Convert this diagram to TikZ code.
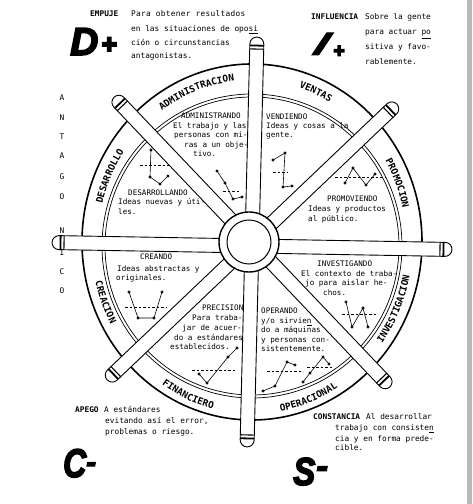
\documentclass[tikz,border=0pt]{standalone}
\usepackage{fontspec}
\usetikzlibrary{decorations.text}
\newfontfamily\monof{DejaVu Sans Mono}
\newfontfamily\bigf{Liberation Sans}
\newcommand\fntIn{\monof\fontsize{7.6}{9}\selectfont}
\newcommand\fntOut{\monof\fontsize{7.8}{9}\selectfont}
\newcommand\fntLab{\monof\bfseries\fontsize{9.4}{10}\selectfont}
\newcommand\fntBig[1]{\bigf\bfseries\itshape\fontsize{#1}{#1}\selectfont}
\newcommand\heavytxt[2]{\special{pdf:literal direct 2 Tr #1 w}#2\special{pdf:literal direct 0 Tr 0.4 w}}
\newcommand\ringlab[5]{\path[decorate,decoration={text along path,text={|\fntLab|#1},text align=center}] ([shift={(252,262)}]#2:#4 and #5) arc[start angle=#2,end angle=#3,x radius=#4,y radius=#5];}
\tikzset{
  intxt/.style={font=\fntIn, anchor=base west, inner sep=0pt},
  outtxt/.style={font=\fntOut, anchor=base west, inner sep=0pt},
  outbold/.style={font=\fntOut\bfseries, anchor=base west, inner sep=0pt},
  bigtxt/.style={anchor=base west, inner sep=0pt},
  vletter/.style={font=\fntOut, anchor=center, inner sep=0pt},
  ringout/.style={line width=1.6pt},
  ringin/.style={line width=0.7pt},
  spokebody/.style={draw, fill=white, line width=0.9pt},
  chart/.style={line width=0.6pt},
  dashln/.style={line width=0.5pt, dash pattern=on 2.5pt off 2pt}
}
\begin{document}
\begin{tikzpicture}[x=1pt,y=1pt]
\useasboundingbox (0,0) rectangle (472,504);
\fill[white] (0,0) rectangle (472,504);
\fill[gray!55] (467,0) rectangle (472,504);

% rings
\draw[ringout] (252,262) ellipse [x radius=170, y radius=178];
\draw[ringin] (252,258) ellipse [x radius=150, y radius=152];
\draw[ringin] (252,258) ellipse [x radius=147, y radius=149];

% ring labels
\ringlab{PROMOCION}{43.1}{-0.9}{154}{162}
\ringlab{VENTAS}{88.1}{44.1}{154}{162}
\ringlab{ADMINISTRACION}{133.1}{89.1}{154}{162}
\ringlab{DESARROLLO}{178.1}{134.1}{154}{162}
\ringlab{CREACION}{179.1}{223.1}{161}{172}
\ringlab{FINANCIERO}{224.1}{268.1}{161}{172}
\ringlab{OPERACIONAL}{269.1}{313.1}{161}{172}
\ringlab{INVESTIGACION}{314.1}{358.1}{161}{172}

% spokes
\foreach \a/\L/\cy in {-1.0/200/258,43.6/200/262,88.6/205/262,133.6/200/262}{
  \begin{scope}[shift={(252,\cy)},rotate=\a]
    \draw[spokebody] (-\L+7,-7) -- (\L-7,-7) arc[start angle=-90,end angle=90,radius=7] -- (-\L+7,7) arc[start angle=90,end angle=270,radius=7] -- cycle;
    \draw[line width=1.8pt] (\L-8.5,-7) -- (\L-8.5,7) (-\L+8.5,-7) -- (-\L+8.5,7);
    \draw[line width=1.1pt] (\L-12,-7) -- (\L-12,7) (-\L+12,-7) -- (-\L+12,7);
  \end{scope}}

% hub
\draw[line width=1.4pt, fill=white] (249,262) circle (30);
\draw[line width=1pt] (249,262) circle (22);

% charts
\draw[chart] plot[mark=*, mark size=1.2pt] coordinates {(217,333) (225,321) (233,305) (242,307)};
\draw[dashln] (223,313) -- (240,313);
\draw[chart] plot[mark=*, mark size=1.2pt] coordinates {(151,354) (150,327) (160,320) (168,328)};
\draw[dashln] (140,339) -- (170,339);
\draw[chart] plot[mark=*, mark size=1.2pt] coordinates {(273,344) (285,351) (283,317) (292,318)};
\draw[dashln] (273,332) -- (288,332);
\draw[chart] plot[mark=*, mark size=1.2pt] coordinates {(345,321) (353,336) (366,319) (375,330)};
\draw[dashln] (335,327) -- (385,327);
\draw[chart] plot[mark=*, mark size=1.2pt] coordinates {(346,202) (352,177) (363,196) (368,177)};
\draw[dashln] (342,190) -- (378,190);
\draw[chart] plot[mark=*, mark size=1.2pt] coordinates {(129,212) (138,186) (154,186) (162,212)};
\draw[dashln] (125,197) -- (167,197);
\draw[chart] plot[mark=*, mark size=1.2pt] coordinates {(199,130) (207,121) (228,147) (237,156)};
\draw[dashln] (192,134) -- (237,134);
\draw[chart] plot[mark=*, mark size=1.2pt] coordinates {(263,113) (275,118) (287,142) (295,139)};
\draw[dashln] (267,133) -- (303,133);
\draw[chart] plot[mark=*, mark size=1.2pt] coordinates {(303,122) (310,131) (323,147) (329,140)};
\draw[dashln] (307,137) -- (333,137);

% sector texts
\node[intxt] (adm1) at (181,385) {ADMINISTRANDO};
\node[intxt] (adm2) at (173,375.5) {El trabajo y las};
\node[intxt] (adm3) at (174,366) {personas con mi-};
\node[intxt] (adm4) at (184,356.5) {ras a un obje-};
\node[intxt] (adm5) at (193,347) {tivo.};

\node[intxt] (ven1) at (266,384) {VENDIENDO};
\node[intxt] (ven2) at (266,375) {Ideas y cosas a la};
\node[intxt] (ven3) at (266,366) {gente.};

\node[intxt] (des1) at (128,308) {DESARROLLANDO};
\node[intxt] (des2) at (118,299) {Ideas nuevas y úti-};
\node[intxt] (des3) at (118,289) {les.};

\node[intxt] (pro1) at (327,302) {PROMOVIENDO};
\node[intxt] (pro2) at (308,292) {Ideas y productos};
\node[intxt] (pro3) at (308,282) {al público.};

\node[intxt] (cre1) at (140,244) {CREANDO};
\node[intxt] (cre2) at (117,232) {Ideas abstractas y};
\node[intxt] (cre3) at (116,223) {originales.};

\node[intxt] (inv1) at (317,237) {INVESTIGANDO};
\node[intxt] (inv2) at (301,227) {El contexto de traba-};
\node[intxt] (inv3) at (305,218) {jo para aislar he-};
\node[intxt] (inv4) at (323,208) {chos.};

\node[intxt] (pre1) at (202,193) {PRECISION};
\node[intxt] (pre2) at (192,183) {Para traba-};
\node[intxt] (pre3) at (182,173) {jar de acuer-};
\node[intxt] (pre4) at (174,163) {do a estándares};
\node[intxt] (pre5) at (170,154) {establecidos.};

\node[intxt] (ope1) at (261,190) {OPERANDO};
\node[intxt] (ope2) at (261,180) {y/o sirvie\underline{n}};
\node[intxt] (ope3) at (261,171) {do a máquinas};
\node[intxt] (ope4) at (261,161) {y personas con-};
\node[intxt] (ope5) at (261,152) {sistentemente.};

% corner texts
\node[outbold] (emp0) at (90,487) {EMPUJE};
\node[outtxt] (emp1) at (131,487) {\addfontfeature{LetterSpace=4}Para obtener resultados};
\node[outtxt] (emp2) at (131,472) {en las situaciones de opo\underline{si}};
\node[outtxt] (emp3) at (131,458) {ción o circunstancias};
\node[outtxt] (emp4) at (131,445) {antagonistas.};

\node[outbold] (inf0) at (311,484) {INFLUENCIA};
\node[outtxt] (inf1) at (365,484) {Sobre la gente};
\node[outtxt] (inf2) at (365,469) {para actuar \underline{po}};
\node[outtxt] (inf3) at (365,454) {sitiva y favo-};
\node[outtxt] (inf4) at (365,439) {rablemente.};

\node[outbold] (ape0) at (75,91) {APEGO};
\node[outtxt] (ape1) at (104,91) {A estándares};
\node[outtxt] (ape2) at (105,80) {evitando así el error,};
\node[outtxt] (ape3) at (105,69) {problemas o riesgo.};

\node[outbold] (con0) at (313,84) {CONSTANCIA};
\node[outtxt] (con1) at (366,84) {Al desarrollar};
\node[outtxt] (con2) at (335,73) {trabajo con consiste\underline{n}};
\node[outtxt] (con3) at (335,63) {cia y en forma prede-};
\node[outtxt] (con4) at (335,53) {cible.};

% ANTAGONICO
\node[vletter] (ant1) at (62,406) {A};
\node[vletter] (ant2) at (62,386) {N};
\node[vletter] (ant3) at (62,367) {T};
\node[vletter] (ant4) at (62,348) {A};
\node[vletter] (ant5) at (62,327) {G};
\node[vletter] (ant6) at (62,307) {O};
\node[vletter] (ant7) at (62,273) {N};
\node[vletter] (ant8) at (62,251) {I};
\node[vletter] (ant9) at (62,232) {C};
\node[vletter] (ant10) at (62,213) {O};

% big letters
\node[bigtxt, font=\fntBig{39}] (bigD) at (70,449) {\heavytxt{1.6}{D}};
\node[bigtxt, font=\fntBig{26}] (bigDp) at (101,451) {\heavytxt{2}{+}};
\begin{scope}[shift={(311,449)}]
  \node[bigtxt, font=\fntBig{32}, xslant=0.4, xscale=1.4, transform shape] (bigI) at (0,0) {\heavytxt{1}{I}};
\end{scope}
\node[bigtxt, font=\fntBig{19}] (bigIp) at (333,447) {\heavytxt{1.6}{+}};
\begin{scope}[shift={(63,27)}]
  \node[bigtxt, font=\fntBig{40}, xscale=0.8, transform shape] (bigC) at (0,0) {\heavytxt{1.6}{C}};
\end{scope}
\node[bigtxt, font=\fntBig{30}] (bigCm) at (86,32) {\heavytxt{1.2}{-}};
\begin{scope}[shift={(293,19)}]
  \node[bigtxt, font=\fntBig{39}, xscale=0.85, transform shape] (bigS) at (0,0) {\heavytxt{1.6}{S}};
\end{scope}
\node[bigtxt, font=\fntBig{36}] (bigSm) at (316,26) {\heavytxt{1.2}{-}};
\end{tikzpicture}
\end{document}
